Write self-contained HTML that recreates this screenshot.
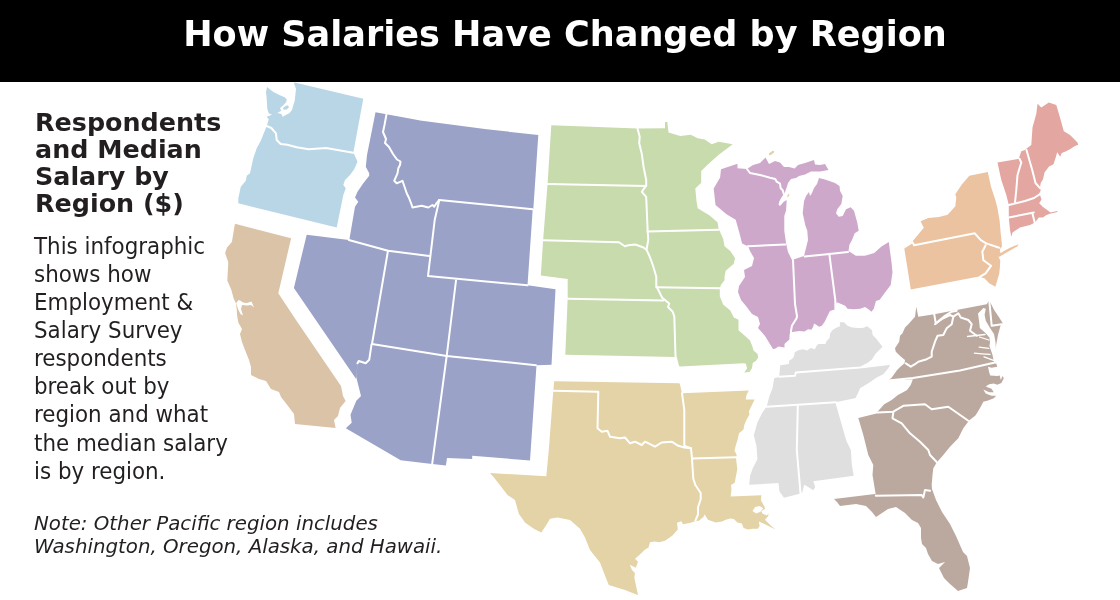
<!DOCTYPE html>
<html><head><meta charset="utf-8"><title>How Salaries Have Changed by Region</title>
<style>
html,body{margin:0;padding:0;background:#fff;}
body{width:1120px;height:600px;position:relative;overflow:hidden;font-family:"DejaVu Sans","Liberation Sans",sans-serif;color:#231f20;}
.bar{position:absolute;left:0;top:0;width:1120px;height:82px;background:#000;}
.bar h1{margin:0;position:absolute;left:5px;top:14px;width:1120px;text-align:center;color:#fff;font-size:35.1px;font-weight:bold;line-height:40px;white-space:nowrap;}
h2{margin:0;position:absolute;left:35px;top:108.5px;font-size:25.4px;font-weight:bold;line-height:27px;white-space:nowrap;}
.body{margin:0;position:absolute;left:34px;top:231.5px;font-family:"DejaVu Sans Condensed","DejaVu Sans",sans-serif;font-stretch:condensed;font-size:23.8px;line-height:28.15px;white-space:nowrap;}
.note{position:absolute;left:34px;top:511.5px;font-size:19.8px;font-style:italic;line-height:23.7px;white-space:nowrap;}
svg{position:absolute;left:0;top:0;}
svg polyline{fill:none;stroke:#fff;stroke-width:2;stroke-linejoin:round;stroke-linecap:round;}
svg polyline.r{stroke-width:1.3;}
</style></head>
<body>
<svg width="1120" height="600" viewBox="0 0 1120 600">
<polygon fill="#b9d6e6" points="267.0,87.0 273.3,92.0 280.0,95.3 284.7,97.3 286.7,99.3 286.3,102.0 283.3,105.3 280.0,108.0 281.3,110.7 277.3,113.0 281.3,114.0 282.7,116.7 285.3,115.3 289.3,113.3 292.0,110.0 293.3,105.3 294.7,100.7 295.3,95.3 296.0,88.7 294.0,83.3 294.7,82.5 363.3,98.7 353.3,152.7 354.2,154.2 357.5,161.7 354.2,169.2 350.0,175.0 345.0,180.0 343.3,185.0 345.8,188.3 343.3,195.0 336.7,227.5 238.3,203.3 238.3,198.3 240.8,186.7 245.8,180.8 246.7,175.8 250.0,173.3 253.3,158.3 256.7,148.3 260.8,140.8 266.7,126.0 268.0,122.0 268.7,119.3 266.7,116.7 272.0,114.7 268.7,113.3 267.3,108.7 266.7,98.7 266.0,92.0"/>
<polygon fill="#dbc3a8" points="235.0,223.7 291.1,238.3 278.3,293.3 296.0,320.0 341.0,386.0 343.0,396.0 345.6,401.0 340.0,408.0 338.0,416.0 334.0,420.0 335.6,428.0 295.0,424.0 294.0,414.0 288.0,406.0 281.0,397.0 279.0,392.0 271.0,389.0 266.0,381.0 259.0,379.0 251.0,375.0 251.0,367.0 249.0,360.0 245.0,350.0 242.0,342.0 240.0,334.0 242.0,329.0 238.4,322.7 237.2,316.2 236.7,309.2 236.1,303.4 233.7,298.7 231.4,290.0 227.3,280.5 228.3,262.2 225.1,253.0 227.0,247.5 231.9,242.0 234.3,227.3"/>
<polygon fill="#9aa2c7" points="375.5,112.2 386.5,114.2 415.0,119.5 420.0,120.4 486.7,129.3 538.3,135.0 533.3,209.3 532.7,209.3 527.5,285.3 555.5,289.3 551.5,364.8 536.5,365.3 530.0,460.5 472.2,455.7 472.2,458.9 447.0,457.9 445.9,465.4 432.2,463.9 400.7,460.2 345.8,428.2 351.7,422.8 350.5,414.7 356.3,400.7 361.0,396.0 356.3,377.3 357.5,363.3 356.0,378.7 293.9,288.0 306.7,234.7 348.8,240.0 349.3,240.0 355.0,206.7 358.3,201.7 355.0,197.5 357.5,191.7 363.3,183.3 369.2,175.8 369.2,173.3 365.8,166.7 366.0,165.0 367.0,155.0 371.0,135.0"/>
<polygon fill="#c8dbad" points="551.3,125.2 637.5,128.4 665.0,128.3 665.0,122.0 667.3,122.0 668.5,132.5 680.2,136.0 690.7,134.8 697.7,138.3 704.7,139.5 711.7,144.2 718.7,141.8 725.7,143.0 732.7,144.2 718.7,154.7 707.0,165.2 701.2,171.0 701.2,182.7 695.3,188.5 696.5,201.3 697.7,208.3 709.3,215.3 717.5,222.3 718.7,229.3 719.8,231.2 723.3,239.3 724.5,246.3 730.3,251.0 735.0,258.0 733.8,263.8 725.7,270.8 724.5,276.7 724.5,280.2 721.0,284.8 719.8,288.3 719.8,296.5 723.3,304.7 730.3,310.5 733.8,317.5 738.5,319.8 738.5,330.3 744.8,335.8 750.0,340.5 752.3,346.3 753.5,350.4 757.6,353.9 758.2,357.4 755.8,360.9 752.9,362.7 751.8,368.5 749.4,372.0 744.2,372.6 747.1,368.5 745.9,363.8 743.6,363.3 680.0,366.4 677.8,365.3 675.5,357.0 565.3,354.8 567.7,297.7 567.7,279.0 540.8,275.5 543.2,239.3 547.6,183.3"/>
<polygon fill="#cea8cb" points="721.0,169.3 737.5,163.8 737.5,168.3 747.0,169.0 753.0,165.0 760.0,163.0 765.5,157.5 769.0,164.0 775.0,161.0 780.0,162.5 784.0,167.0 789.0,167.0 794.5,168.5 798.0,165.0 805.0,163.0 814.0,160.0 815.0,164.5 820.0,165.0 825.0,164.0 828.5,170.0 820.0,171.5 811.0,171.5 805.0,174.5 799.0,176.0 796.0,178.0 791.0,179.0 788.0,183.0 786.5,188.0 784.5,193.5 782.0,196.5 779.5,201.0 778.5,204.5 780.0,206.0 783.5,202.0 786.7,200.0 786.1,210.5 784.3,216.0 784.3,230.7 786.1,243.5 788.0,252.0 792.0,260.0 804.0,256.0 808.0,240.0 807.3,230.7 805.3,225.3 802.7,213.3 804.0,201.3 806.0,196.0 809.0,192.0 810.0,196.0 812.0,193.0 814.0,188.0 817.0,184.0 819.0,178.0 825.0,179.5 835.0,183.0 839.5,186.0 840.0,190.7 842.7,196.0 841.3,204.0 837.3,209.3 836.0,213.3 838.7,216.7 842.7,216.0 846.0,209.3 850.7,207.3 854.0,210.7 857.3,222.7 858.7,230.7 854.7,233.3 852.0,240.0 849.4,244.7 848.5,251.1 855.8,255.7 865.0,255.7 874.2,252.9 881.5,246.5 888.8,241.9 891.6,263.0 892.5,272.2 890.7,285.0 885.2,292.3 879.7,299.7 876.0,301.0 874.9,304.7 873.8,308.8 871.4,311.7 868.5,309.3 865.0,307.0 860.3,308.8 853.3,309.3 847.5,308.8 845.2,305.8 837.0,302.3 835.5,304.0 835.3,309.3 830.0,311.1 828.3,314.3 824.7,321.7 821.8,325.8 819.2,326.7 816.6,325.0 814.0,323.6 813.2,326.7 811.4,329.7 808.0,329.3 804.5,331.4 799.3,331.0 792.3,331.9 789.7,333.6 789.3,339.7 787.1,341.4 784.5,344.0 784.5,347.5 778.5,346.6 775.0,348.8 773.0,349.0 765.0,336.0 758.0,328.0 760.0,324.0 758.0,317.0 752.0,314.0 746.0,306.0 741.0,300.0 738.0,292.0 739.0,286.0 745.0,277.0 744.0,270.0 752.0,266.0 754.0,258.0 750.0,251.0 748.0,246.0 747.6,246.3 742.1,243.5 739.3,232.5 735.7,219.7 726.5,214.2 715.5,205.0 713.7,188.5 720.1,177.5"/>
<polygon fill="#ecc3a0" points="969.3,175.8 987.8,171.9 991.0,186.7 995.3,199.7 997.5,208.3 999.7,221.3 1000.8,234.3 1001.8,243.0 1002.0,246.5 1000.3,248.5 999.8,252.0 1001.0,253.0 1004.0,251.0 1009.0,248.3 1014.0,246.0 1018.5,244.2 1017.5,246.3 1011.0,250.0 1004.0,254.0 999.5,256.8 998.5,256.5 1000.3,260.7 999.8,268.3 999.2,273.7 997.0,281.3 995.4,286.7 989.5,283.5 984.1,278.1 982.3,277.7 979.1,276.6 910.8,289.6 904.3,248.4 913.0,243.0 913.0,240.8 923.8,227.8 920.6,221.3 928.2,218.1 939.0,217.0 947.7,214.8 955.3,206.2 956.3,197.5 955.3,194.3 961.8,184.5"/>
<polygon fill="#e4a6a0" points="997.5,162.5 1018.8,158.8 1021.3,151.3 1025.0,150.0 1026.3,148.8 1031.3,145.0 1032.5,127.5 1036.3,113.8 1037.5,103.8 1041.3,107.5 1048.8,102.5 1056.3,105.0 1060.0,117.5 1063.8,131.3 1070.0,135.0 1073.8,138.8 1077.5,142.5 1078.2,144.7 1074.5,146.2 1070.0,149.2 1065.5,151.5 1061.7,153.0 1060.2,156.7 1057.2,152.2 1055.7,157.5 1053.5,164.2 1049.0,166.5 1044.5,172.5 1043.0,179.2 1040.7,183.0 1040.0,187.5 1040.7,190.5 1039.2,193.5 1040.0,195.0 1041.5,199.5 1039.2,203.2 1043.0,207.0 1048.2,210.7 1050.5,212.5 1057.2,211.0 1057.5,212.0 1049.0,214.0 1046.0,215.2 1043.0,217.5 1038.8,217.5 1035.0,222.5 1030.0,225.0 1020.0,227.5 1012.5,232.5 1011.3,236.7 1010.0,230.0 1008.8,217.5 1008.8,205.0 1006.3,195.0 1001.3,180.0"/>
<polygon fill="#bba99f" points="916.3,306.7 918.3,316.7 934.2,314.2 986.7,304.2 989.3,300.3 994.0,309.7 999.3,317.7 1002.7,323.0 1000.7,325.0 998.0,335.0 996.0,345.7 996.0,353.7 995.3,359.0 996.0,363.0 997.3,366.7 991.5,367.8 988.0,366.7 989.2,372.5 990.3,375.4 997.3,376.0 999.7,375.4 1000.8,380.1 1002.6,376.0 1003.8,378.3 1001.4,383.0 997.3,384.8 993.8,383.6 989.2,384.2 985.7,386.5 991.5,388.8 993.8,392.3 989.2,392.3 983.3,389.4 985.7,393.5 991.5,395.8 996.2,395.8 993.8,398.2 988.0,400.5 983.3,401.7 981.0,406.3 977.5,412.2 975.2,415.7 969.3,420.3 963.3,428.3 958.3,438.3 950.0,446.7 943.3,455.0 936.7,462.5 933.3,468.3 932.5,475.0 931.7,485.0 932.0,489.0 936.0,500.0 942.0,512.0 950.0,524.0 956.0,536.0 963.0,552.0 967.0,556.0 970.0,568.0 968.0,582.0 967.0,588.0 958.0,591.0 950.0,584.0 944.0,578.0 939.0,568.0 945.0,562.0 938.0,564.0 932.0,561.0 928.0,554.0 926.0,548.0 922.0,544.0 921.0,538.0 921.0,528.0 918.0,523.0 912.0,520.0 905.0,513.0 896.0,507.0 888.0,509.0 882.0,513.0 876.0,517.0 872.0,512.0 866.0,506.0 856.0,504.0 848.0,505.0 840.0,506.0 837.0,502.0 834.0,499.0 875.0,494.0 875.8,495.0 872.5,475.0 873.3,465.0 868.3,455.0 863.3,435.0 858.3,418.0 877.5,413.3 877.5,411.7 884.2,404.2 891.7,400.0 897.9,395.0 903.6,392.1 907.1,390.0 910.7,385.0 912.9,379.3 887.9,380.4 891.4,377.9 897.1,370.0 900.7,366.4 904.6,363.2 905.0,360.0 900.7,356.4 895.8,351.7 895.0,348.3 899.2,341.7 900.0,335.8 902.5,333.3 905.0,327.5 908.3,324.2 915.0,316.7"/>
<polygon fill="#dfdfdf" points="780.2,365.3 783.7,364.8 788.9,364.0 789.3,360.5 792.3,358.8 794.1,356.2 794.5,352.7 797.5,350.5 802.8,349.2 807.1,350.5 810.6,347.9 814.9,349.2 816.6,345.8 818.4,344.0 825.3,344.0 827.0,340.5 829.6,338.0 830.0,333.8 832.3,330.3 835.8,328.0 839.9,326.3 839.9,322.2 844.0,322.2 847.5,325.7 852.2,327.4 858.0,328.0 862.7,328.0 867.3,326.3 872.0,330.3 872.6,335.0 876.1,338.5 882.5,346.7 879.0,350.2 875.5,353.7 872.0,359.5 867.3,363.0 862.7,365.3 860.0,366.7 890.8,363.7 888.3,368.3 883.3,374.2 876.7,377.5 868.3,383.3 860.0,388.3 858.3,392.5 855.8,397.5 855.0,398.3 835.3,402.3 846.3,440.8 850.9,450.0 851.8,464.7 853.7,475.7 813.3,481.2 815.2,486.7 813.3,490.3 807.8,486.7 804.2,484.8 802.3,492.2 798.7,494.0 784.0,497.7 779.4,491.3 778.5,483.0 749.2,484.8 750.1,475.7 752.8,468.3 757.4,459.2 756.5,446.3 753.8,435.3 757.4,422.5 762.0,413.3 765.7,407.8 766.7,406.7 769.2,396.7 772.5,388.3 774.2,378.3 779.2,376.7"/>
<polygon fill="#e3d3a6" points="554.2,381.3 679.2,383.3 679.8,383.8 682.0,393.2 748.8,390.5 746.5,395.0 745.7,399.5 754.7,399.5 753.2,402.5 751.0,407.0 748.8,411.5 749.5,414.5 746.5,419.8 744.3,425.0 743.5,429.5 739.0,433.3 737.5,440.0 736.0,444.5 734.5,450.5 736.7,455.0 736.0,458.0 737.3,469.3 734.7,482.7 731.0,485.0 731.5,489.5 730.6,496.6 761.4,495.3 761.0,500.6 764.6,506.9 765.0,509.1 761.4,510.9 762.3,513.6 766.8,515.4 768.6,513.6 768.1,516.3 765.0,519.8 767.7,522.5 771.3,526.1 775.7,529.6 770.4,527.0 765.0,524.3 758.8,521.6 759.6,526.1 757.9,528.8 752.5,528.8 748.0,529.6 743.6,527.9 741.8,523.4 737.3,522.5 733.8,518.9 730.2,518.5 725.7,519.8 722.1,521.6 715.9,522.5 707.9,519.8 704.7,514.5 703.4,517.1 698.9,520.7 694.5,521.6 690.5,522.8 683.0,524.3 681.5,521.3 677.0,522.8 677.8,529.5 672.5,535.5 665.0,540.8 659.0,542.3 654.5,541.5 650.0,542.3 648.5,547.5 644.8,549.8 641.0,553.5 635.0,558.8 638.0,561.8 635.8,567.8 629.8,564.8 632.0,570.0 635.0,573.0 634.3,577.5 636.5,588.0 638.0,594.8 637.5,595.0 625.0,590.0 608.8,585.0 603.8,572.5 600.0,562.5 590.0,550.0 585.0,537.5 580.0,528.8 570.0,520.0 557.5,517.5 550.0,518.8 546.3,525.0 541.3,532.5 533.8,528.8 525.0,522.5 518.8,513.8 515.0,500.0 507.5,495.0 495.0,478.8 490.0,473.0 546.3,476.3 548.8,450.0 553.3,390.8"/>
<polygon fill="#fff" points="752.5,510.9 755.2,506.9 759.6,506.0 763.2,508.2 760.5,511.8 756.1,513.6"/>
<polygon fill="#fff" points="236.2,303.0 238.5,300.0 241.0,301.0 243.0,302.5 247.0,303.0 251.5,301.5 254.0,307.5 251.0,305.0 247.0,305.5 242.0,305.0 241.0,309.0 243.0,315.5 240.5,314.0 238.0,309.0"/>
<polygon fill="#fff" points="983.4,308.0 978.0,313.6 979.2,322.0 979.8,328.0 985.2,332.8 989.4,337.6 990.0,342.4 989.4,346.0 992.4,354.4 993.6,360.4 995.5,364.0 996.5,358.0 996.0,350.0 995.5,342.0 994.0,334.0 990.0,328.0 985.8,320.8 984.6,314.8 985.8,308.8"/>
<polygon fill="#b9d6e6" points="283.0,108.0 285.5,106.0 288.0,105.3 289.0,107.5 286.5,109.5 283.5,109.8"/>
<polyline class="r" points="967.5,336.5 976.0,335.5 985.0,334.5"/>
<polyline class="r" points="979.5,337.0 988.8,340.0"/>
<polyline class="r" points="979.2,347.2 988.8,348.4"/>
<polyline class="r" points="974.4,353.2 982.0,353.8 990.0,354.4"/>
<polyline class="r" points="984.0,356.8 993.6,360.4"/>
<ellipse fill="#e2d2a5" cx="771.5" cy="153" rx="3.2" ry="1.2" transform="rotate(-35 771.5 153)"/>
<ellipse fill="#e2d2a5" cx="788.3" cy="195.5" rx="1.6" ry="0.8" transform="rotate(-60 788.3 195.5)"/>
<polyline points="353.3,152.7 326.0,148.0 308.7,149.3 296.7,147.3 287.3,144.7 280.7,144.0 276.7,140.0 276.0,133.3 271.3,128.0 266.7,126.0"/>
<polyline points="386.5,114.2 384.5,125.0 383.0,132.0 386.0,139.0 385.0,143.0 389.0,147.0 393.0,154.0 397.0,159.5 400.5,161.5 400.0,165.0 398.3,168.3 397.5,173.3 394.2,180.8 396.7,183.3 402.5,180.8 404.2,185.8 406.7,193.3 409.2,198.3 411.7,205.0 412.5,207.5 421.7,205.8 428.3,207.5 432.5,205.0 434.2,206.7 436.0,204.0 439.3,200.0"/>
<polyline points="439.3,200.0 532.7,209.3"/>
<polyline points="439.3,200.0 434.7,220.0 428.0,276.0 527.5,285.3"/>
<polyline points="348.8,240.0 388.0,250.7 429.3,256.0"/>
<polyline points="388.0,250.7 372.0,344.0 371.5,344.7 369.2,359.8 365.7,363.3 358.7,361.0 357.5,363.3"/>
<polyline points="456.0,280.5 446.7,356.0"/>
<polyline points="372.0,344.0 446.7,356.0 536.0,365.2"/>
<polyline points="446.7,356.0 432.2,463.7"/>
<polyline points="637.5,128.4 639.7,136.7 639.2,143.2 641.8,154.0 643.6,167.0 646.2,180.0 646.2,185.4 641.8,191.9 646.2,196.9 647.7,232.0 648.3,239.6 646.5,249.8"/>
<polyline points="547.6,183.9 646.2,185.9"/>
<polyline points="543.2,240.3 619.0,242.3 624.8,246.3 628.3,245.2 635.3,244.5 643.5,247.5 646.5,249.8 649.3,255.7 652.8,265.0 656.3,276.7 656.3,286.0 662.2,297.7 669.2,303.5 668.0,307.0 672.7,311.7 674.3,316.3 675.5,356.0 677.8,365.3"/>
<polyline points="647.5,231.5 718.7,229.8"/>
<polyline points="656.3,287.2 719.8,288.3"/>
<polyline points="567.7,298.7 663.3,300.6"/>
<polyline points="747.0,169.0 750.0,173.0 760.0,175.0 770.0,177.7 775.3,179.0 776.7,181.7 780.0,183.7 780.7,188.3 782.7,190.3 783.8,194.0"/>
<polyline points="747.6,246.3 785.2,244.4"/>
<polyline points="793.0,260.0 795.0,304.0 796.0,310.0 797.0,316.0 796.7,318.0 794.1,322.3 791.9,325.8 791.0,331.0 791.0,333.6"/>
<polyline points="804.7,256.5 829.3,254.0 848.0,252.0"/>
<polyline points="829.3,253.8 835.3,300.0 835.4,309.0"/>
<polyline points="913.0,243.0 914.1,245.2 974.8,233.3 980.8,240.2 986.2,243.4 999.2,247.7"/>
<polyline points="985.6,245.2 982.3,251.7 983.4,260.3 991.0,265.8 985.6,273.3 980.2,276.6"/>
<polyline points="1019.5,158.8 1021.3,162.5 1017.5,175.0 1016.3,190.0 1015.0,202.5"/>
<polyline points="1026.5,150.0 1029.5,160.5 1032.5,171.0 1035.5,183.0 1040.0,188.2"/>
<polyline points="1008.8,205.0 1025.0,201.0 1034.0,198.0 1040.0,194.2"/>
<polyline points="1008.8,217.5 1033.8,212.5"/>
<polyline points="1032.5,213.8 1035.0,223.8"/>
<polyline points="934.2,314.2 935.8,323.3 945.0,315.8 951.7,311.7 956.7,310.8"/>
<polyline points="935.0,324.2 941.7,319.2 950.0,315.0 953.3,316.7 951.7,324.2 946.7,328.3 943.3,335.0 937.5,335.8 935.0,341.7 931.7,351.7 931.7,356.7 926.7,359.2 918.3,361.7 915.0,364.2 910.8,366.7 905.8,363.3"/>
<polyline points="953.3,316.7 958.3,313.3 960.8,317.5 968.3,320.0 971.7,324.2 970.0,330.8 976.7,335.8"/>
<polyline points="989.3,300.8 991.7,325.8 1001.7,324.2"/>
<polyline points="888.0,380.4 912.9,377.9 960.0,370.4 995.0,362.6"/>
<polyline points="877.5,412.5 893.3,411.7 903.3,405.8 925.0,404.2 931.7,409.2 948.3,406.7 968.3,420.8"/>
<polyline points="893.3,412.5 892.5,418.3 901.7,423.3 910.0,433.3 920.0,441.7 928.3,450.0 930.0,455.0 936.7,462.0"/>
<polyline points="875.8,495.8 921.7,495.0 923.3,497.5 925.0,490.0 930.0,490.8"/>
<polyline points="779.2,376.7 795.0,375.8 795.8,372.5 860.0,367.5 890.8,363.7"/>
<polyline points="766.7,406.7 836.0,402.2"/>
<polyline points="797.8,406.0 796.8,450.0 800.5,493.1"/>
<polyline points="553.3,390.8 598.3,391.7 597.5,428.3 601.7,431.7 607.5,430.8 610.0,436.7 620.0,438.3 625.0,437.5 630.0,443.3 635.0,441.7 641.7,445.0 645.0,441.7 655.0,446.7 661.7,442.5 671.7,441.7 678.3,445.8 684.2,447.5 690.8,448.3"/>
<polyline points="682.0,393.2 684.3,410.0 684.3,446.0 691.0,448.3 692.0,458.7 693.3,478.7 695.4,485.0 700.7,493.0 700.7,499.3 698.0,507.3 698.0,514.5 695.4,520.7"/>
<polyline points="692.0,458.5 736.0,457.3"/>
</svg>
<div class="bar"><h1>How Salaries Have Changed by Region</h1></div>
<h2>Respondents<br>and Median<br>Salary by<br>Region ($)</h2>
<p class="body">This infographic<br>shows how<br>Employment &amp;<br>Salary Survey<br>respondents<br>break out by<br>region and what<br>the median salary<br>is by region.</p>
<div class="note">Note: Other Pacific region includes<br>Washington, Oregon, Alaska, and Hawaii.</div>
</body></html>
